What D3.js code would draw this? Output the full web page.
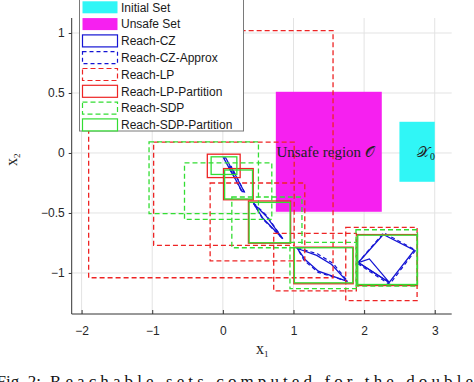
<!DOCTYPE html>
<html>
<head>
<meta charset="utf-8">
<script src="https://cdn.jsdelivr.net/npm/d3@7"></script>
<style>
  body { margin: 0; background: #fff; }
  svg { display: block; }
</style>
</head>
<body>
<script>
// Axis ticks
var xTicks = [-2, -1, 0, 1, 2, 3];
var yTicks = [-1, -0.5, 0, 0.5, 1];

// Sets as [xmin, xmax, ymin, ymax]
var initialSet = [2.5, 3.0, -0.24, 0.26];
var unsafeSet = [0.75, 2.25, -0.49, 0.51];

// One box per time step (step 1 nearest the initial set)
var reachLP = [
    [1.74, 2.75, -1.23, -0.62],
    [0.72, 1.89, -1.15, -0.67],
    [-0.18, 1.16, -0.90, -0.25],
    [-0.98, 1.01, -0.77, 0.09],
    [-1.90, 1.56, -1.04, 1.02]
];
var reachLPPartition = [
    [1.90, 2.755, -1.105, -0.68],
    [1.005, 1.845, -1.09, -0.785],
    [0.362, 0.96, -0.752, -0.40],
    [0.01, 0.43, -0.39, -0.13],
    [-0.22, 0.245, -0.205, -0.01]
];
var reachSDP = [
    [1.885, 2.755, -1.11, -0.64],
    [0.95, 1.89, -1.13, -0.745],
    [0.127, 1.12, -0.79, -0.367],
    [-0.543, 0.693, -0.554, -0.082],
    [-1.045, 0.504, -0.506, 0.092]
];
var reachSDPPartition = [
    [1.91, 2.75, -1.096, -0.685],
    [1.013, 1.839, -1.082, -0.79],
    [0.372, 0.952, -0.748, -0.412],
    [0.025, 0.42, -0.383, -0.142],
    [-0.166, 0.198, -0.179, -0.032]
];

// Reachable polygons (vertices [x, y])
var reachCZ = [
    [[1.918, -0.913], [2.271, -0.679], [2.71, -0.81], [2.356, -1.079]],
    [[1.918, -0.913], [2.074, -0.883], [2.356, -1.079]],
    [[1.055, -0.796], [1.329, -0.854], [1.541, -0.929], [1.754, -1.068], [1.352, -0.985], [1.164, -0.888]],
    [[0.433, -0.421], [0.612, -0.525], [0.849, -0.715], [0.570, -0.546]],
    [[0.089, -0.121], [0.117, -0.117], [0.301, -0.321], [0.273, -0.321]],
    [[0.01, -0.04], [0.04, -0.04], [0.16, -0.17], [0.13, -0.17]]
];
var reachCZApprox = [
    [[1.905, -0.92], [2.275, -0.665], [2.73, -0.81], [2.36, -1.095]],
    [[1.05, -0.79], [1.34, -0.84], [1.56, -0.92], [1.77, -1.07], [1.35, -0.995], [1.15, -0.895]],
    [[0.43, -0.415], [0.62, -0.52], [0.855, -0.72], [0.565, -0.55]],
    [[0.085, -0.118], [0.12, -0.113], [0.305, -0.325], [0.27, -0.325]]
];

var legendLabels = ["Initial Set", "Unsafe Set", "Reach-CZ", "Reach-CZ-Approx",
    "Reach-LP", "Reach-LP-Partition", "Reach-SDP", "Reach-SDP-Partition"];

var W = 474, H = 382;
var RED = "#ee2424", GREEN = "#33dd33", BLUE = "#1414d4";
var MAGENTA = "#f620f0", CYAN = "#30f6f6";

var svg = d3.select("body").append("svg")
    .attr("width", W)
    .attr("height", H);

// Scales
var x = d3.scaleLinear().domain([-2.14, 3.24]).range([71.7, 451.7]);
var y = d3.scaleLinear().domain([-1.342, 1.125]).range([314, 18]);

// Grid
svg.append("g").selectAll("line")
    .data(xTicks).enter().append("line")
    .attr("x1", d => x(d)).attr("x2", d => x(d))
    .attr("y1", y.range()[1]).attr("y2", y.range()[0])
    .attr("stroke", "#e3e3e3");
svg.append("g").selectAll("line")
    .data(yTicks).enter().append("line")
    .attr("x1", x.range()[0]).attr("x2", x.range()[1])
    .attr("y1", d => y(d)).attr("y2", d => y(d))
    .attr("stroke", "#e3e3e3");

function drawBox(b, fill, stroke, dash) {
    svg.append("rect")
        .attr("x", x(b[0]))
        .attr("y", y(b[3]))
        .attr("width", x(b[1]) - x(b[0]))
        .attr("height", y(b[2]) - y(b[3]))
        .attr("fill", fill)
        .attr("stroke", stroke)
        .attr("stroke-width", 1.3)
        .attr("stroke-dasharray", dash);
}

var line = d3.line().x(d => x(d[0])).y(d => y(d[1]));

// Initial and unsafe sets
drawBox(initialSet, CYAN, "none", null);
drawBox(unsafeSet, MAGENTA, "none", null);

// Reachable sets
reachCZ.forEach(function (p) {
    svg.append("path").attr("d", line(p) + "Z")
        .attr("fill", "none").attr("stroke", BLUE).attr("stroke-width", 1.3);
});
reachCZApprox.forEach(function (p) {
    svg.append("path").attr("d", line(p) + "Z")
        .attr("fill", "none").attr("stroke", BLUE).attr("stroke-width", 1.2)
        .attr("stroke-dasharray", "4,3");
});
reachLP.forEach(b => drawBox(b, "none", RED, "5,3"));
reachLPPartition.forEach(b => drawBox(b, "none", RED, null));
reachSDP.forEach(b => drawBox(b, "none", GREEN, "5,3"));
reachSDPPartition.forEach(b => drawBox(b, "none", GREEN, null));

// Region labels
svg.append("text")
    .attr("x", x(0.76)).attr("y", y(0) + 4)
    .style("font-family", "'Liberation Serif', 'DejaVu Serif', serif")
    .style("font-size", "15px")
    .attr("fill", "#222")
    .text("Unsafe region \u{1D4AA}");
svg.append("text")
    .attr("x", x(2.75)).attr("y", y(0) + 4)
    .style("font-family", "'Liberation Serif', 'DejaVu Serif', serif")
    .style("font-size", "15px")
    .attr("fill", "#222")
    .text("\u{1D4B3}")
    .append("tspan").attr("dy", 3).style("font-size", "10px").text("0");

// Axes
var axisFont = "'Liberation Sans', Arial, sans-serif";
var xAxis = svg.append("g")
    .attr("transform", "translate(0," + y.range()[0] + ")")
    .call(d3.axisBottom(x).tickValues(xTicks).tickSize(-4).tickPadding(12)
        .tickFormat(d3.format("")));
var yAxis = svg.append("g")
    .attr("transform", "translate(" + x.range()[0] + ",0)")
    .call(d3.axisLeft(y).tickValues(yTicks).tickSize(3).tickPadding(4)
        .tickFormat(d3.format("")));
[xAxis, yAxis].forEach(function (a) {
    a.select(".domain").attr("stroke", "#333");
    a.selectAll(".tick line").attr("stroke", "#333");
    a.selectAll("text").style("font-family", axisFont).style("font-size", "12px").attr("fill", "#262626");
});
yAxis.select(".domain").attr("d", "M0," + y.range()[0] + "V" + y.range()[1]);
xAxis.select(".domain").attr("d", "M" + x.range()[0] + ",0H" + x.range()[1]);

// Axis labels
svg.append("text")
    .attr("x", 256).attr("y", 354)
    .style("font-family", "'Liberation Serif', serif")
    .style("font-size", "16px")
    .attr("fill", "#222")
    .text("x")
    .append("tspan").attr("dy", 3).style("font-size", "9px").text("1");
svg.append("text")
    .attr("transform", "translate(17,166) rotate(-90)")
    .style("font-family", "'Liberation Serif', serif")
    .style("font-size", "16px")
    .attr("fill", "#222")
    .text("x")
    .append("tspan").attr("dy", 3).style("font-size", "9px").text("2");

// Legend
var legend = svg.append("g");
legend.append("rect")
    .attr("x", 79.5).attr("y", -4)
    .attr("width", 164).attr("height", 135)
    .attr("fill", "#fff")
    .attr("stroke", "#7a7a7a");

var swatchStyle = [
    { fill: CYAN, stroke: "none", dash: null },
    { fill: MAGENTA, stroke: "none", dash: null },
    { fill: "#fff", stroke: BLUE, dash: null },
    { fill: "#fff", stroke: BLUE, dash: "4,3" },
    { fill: "#fff", stroke: RED, dash: "5,3" },
    { fill: "#fff", stroke: RED, dash: null },
    { fill: "#fff", stroke: GREEN, dash: "5,3" },
    { fill: "#fff", stroke: GREEN, dash: null }
];

var item = legend.selectAll(".legend")
    .data(legendLabels)
    .enter().append("g")
    .attr("class", "legend")
    .attr("transform", function (d, i) { return "translate(0," + (7.3 + i * 16.8) + ")"; });

item.append("rect")
    .attr("x", 82.5).attr("y", -6)
    .attr("width", 35).attr("height", 12)
    .attr("fill", (d, i) => swatchStyle[i].fill)
    .attr("stroke", (d, i) => swatchStyle[i].stroke)
    .attr("stroke-width", 1.2)
    .attr("stroke-dasharray", (d, i) => swatchStyle[i].dash);

item.append("text")
    .attr("x", 121).attr("y", 0)
    .attr("dy", ".35em")
    .style("font-family", axisFont)
    .style("font-size", "12px")
    .attr("fill", "#1a1a1a")
    .text(d => d);

// Caption (cut off by the picture edge)
var capFont = "'Liberation Serif', 'Times New Roman', serif";
svg.append("text")
    .attr("x", 41).attr("y", 387)
    .attr("text-anchor", "end")
    .style("font-family", capFont).style("font-size", "17px")
    .attr("fill", "#111")
    .text("Fig. 2:");
svg.append("text")
    .attr("x", 50).attr("y", 387)
    .attr("textLength", 423).attr("lengthAdjust", "spacing")
    .style("font-family", capFont).style("font-size", "17px")
    .attr("fill", "#111")
    .text("Reachable sets computed for the double");
</script>
</body>
</html>
